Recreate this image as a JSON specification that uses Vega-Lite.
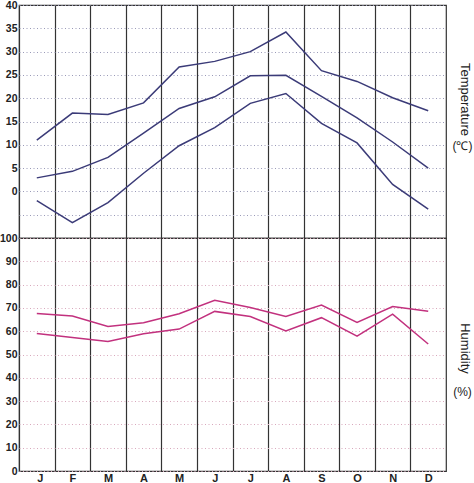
{
  "$schema": "https://vega.github.io/schema/vega-lite/v6.json",
  "padding": {"left": -2, "top": -1, "right": 0, "bottom": 0},
  "spacing": 0,
  "bounds": "flush",
  "config": {
    "font": "Liberation Sans",
    "view": {"stroke": "#333333", "strokeWidth": 1.2},
    "axis": {
      "labelFont": "Liberation Sans",
      "labelFontSize": 10.5,
      "labelFontWeight": "bold",
      "labelColor": "#222222",
      "titleFont": "Liberation Sans",
      "titleFontWeight": "normal",
      "titleColor": "#222222"
    }
  },
  "datasets": {
    "temp": [
      {"month": 1, "series": "max", "temp": 11},
      {"month": 2, "series": "max", "temp": 16.8},
      {"month": 3, "series": "max", "temp": 16.5},
      {"month": 4, "series": "max", "temp": 19},
      {"month": 5, "series": "max", "temp": 26.7},
      {"month": 6, "series": "max", "temp": 27.9},
      {"month": 7, "series": "max", "temp": 30},
      {"month": 8, "series": "max", "temp": 34.2},
      {"month": 9, "series": "max", "temp": 25.9},
      {"month": 10, "series": "max", "temp": 23.6},
      {"month": 11, "series": "max", "temp": 20.1},
      {"month": 12, "series": "max", "temp": 17.3},
      {"month": 1, "series": "mean", "temp": 2.9},
      {"month": 2, "series": "mean", "temp": 4.3},
      {"month": 3, "series": "mean", "temp": 7.3},
      {"month": 4, "series": "mean", "temp": 12.5},
      {"month": 5, "series": "mean", "temp": 17.8},
      {"month": 6, "series": "mean", "temp": 20.3},
      {"month": 7, "series": "mean", "temp": 24.8},
      {"month": 8, "series": "mean", "temp": 24.9},
      {"month": 9, "series": "mean", "temp": 20.4},
      {"month": 10, "series": "mean", "temp": 15.8},
      {"month": 11, "series": "mean", "temp": 10.6},
      {"month": 12, "series": "mean", "temp": 5},
      {"month": 1, "series": "min", "temp": -2},
      {"month": 2, "series": "min", "temp": -6.7},
      {"month": 3, "series": "min", "temp": -2.4},
      {"month": 4, "series": "min", "temp": 3.9},
      {"month": 5, "series": "min", "temp": 9.8},
      {"month": 6, "series": "min", "temp": 13.7},
      {"month": 7, "series": "min", "temp": 18.9},
      {"month": 8, "series": "min", "temp": 21},
      {"month": 9, "series": "min", "temp": 14.6},
      {"month": 10, "series": "min", "temp": 10.4},
      {"month": 11, "series": "min", "temp": 1.5},
      {"month": 12, "series": "min", "temp": -3.8}
    ],
    "hum": [
      {"month": 1, "series": "upper", "hum": 67.6},
      {"month": 2, "series": "upper", "hum": 66.5},
      {"month": 3, "series": "upper", "hum": 62},
      {"month": 4, "series": "upper", "hum": 63.6},
      {"month": 5, "series": "upper", "hum": 67.5},
      {"month": 6, "series": "upper", "hum": 73.3},
      {"month": 7, "series": "upper", "hum": 70.2},
      {"month": 8, "series": "upper", "hum": 66.3},
      {"month": 9, "series": "upper", "hum": 71.2},
      {"month": 10, "series": "upper", "hum": 63.8},
      {"month": 11, "series": "upper", "hum": 70.6},
      {"month": 12, "series": "upper", "hum": 68.6},
      {"month": 1, "series": "lower", "hum": 59},
      {"month": 2, "series": "lower", "hum": 57.3},
      {"month": 3, "series": "lower", "hum": 55.6},
      {"month": 4, "series": "lower", "hum": 58.9},
      {"month": 5, "series": "lower", "hum": 60.9},
      {"month": 6, "series": "lower", "hum": 68.5},
      {"month": 7, "series": "lower", "hum": 66.3},
      {"month": 8, "series": "lower", "hum": 60.1},
      {"month": 9, "series": "lower", "hum": 65.8},
      {"month": 10, "series": "lower", "hum": 57.9},
      {"month": 11, "series": "lower", "hum": 67.3},
      {"month": 12, "series": "lower", "hum": 54.5}
    ]
  },
  "vconcat": [
    {
      "width": 427,
      "height": 233,
      "data": {"name": "temp"},
      "layer": [
        {
          "mark": {"type": "line", "color": "#3b3b78", "strokeWidth": 1.5},
          "encoding": {
            "x": {
              "field": "month", "type": "quantitative",
              "scale": {"domain": [0.5, 12.5], "nice": false, "zero": false},
              "axis": {"values": [0.5, 1.5, 2.5, 3.5, 4.5, 5.5, 6.5, 7.5, 8.5, 9.5, 10.5, 11.5], "labels": false, "ticks": false, "domain": false, "title": null, "grid": true, "gridColor": "#333333", "gridWidth": 1.2, "gridOpacity": 1}
            },
            "y": {
              "field": "temp", "type": "quantitative",
              "scale": {"domain": [-10, 40], "nice": false, "zero": false},
              "axis": {"values": [-5, 0, 5, 10, 15, 20, 25, 30, 35, 40], "labelExpr": "datum.value < 0 ? '' : datum.label", "ticks": false, "domain": false, "labelPadding": 2, "grid": true, "gridColor": "#9a9ab8", "gridDash": [1, 2.5], "gridWidth": 1, "gridOpacity": 1, "title": "(℃)", "titleAngle": 0, "titleX": 443, "titleY": 140, "titleAlign": "center", "titleBaseline": "middle", "titleFontSize": 12}
            },
            "detail": {"field": "series"}
          }
        },
        {
          "mark": {"type": "line", "opacity": 0},
          "encoding": {
            "x": {
              "field": "month", "type": "quantitative",
              "scale": {"domain": [0.5, 12.5], "nice": false, "zero": false},
              "axis": {"values": [0.5, 1.5, 2.5, 3.5, 4.5, 5.5, 6.5, 7.5, 8.5, 9.5, 10.5, 11.5], "labels": false, "ticks": false, "domain": false, "title": null, "grid": true, "gridColor": "#333333", "gridWidth": 1.2, "gridOpacity": 1}
            },
            "y": {
              "field": "temp", "type": "quantitative",
              "scale": {"domain": [-10, 40], "nice": false, "zero": false},
              "axis": {"orient": "right", "labels": false, "ticks": false, "domain": false, "grid": false, "title": "Temperature", "titleAngle": 90, "titleX": 18, "titleY": 94, "titleAlign": "center", "titleBaseline": "middle", "titleFontSize": 13}
            },
            "detail": {"field": "series"}
          }
        }
      ],
      "resolve": {"axis": {"y": "independent"}}
    },
    {
      "width": 427,
      "height": 233,
      "data": {"name": "hum"},
      "layer": [
        {
          "mark": {"type": "line", "color": "#c2317e", "strokeWidth": 1.5},
          "encoding": {
            "x": {
              "field": "month", "type": "quantitative",
              "scale": {"domain": [0.5, 12.5], "nice": false, "zero": false},
              "axis": {"values": [0.5, 1.5, 2.5, 3.5, 4.5, 5.5, 6.5, 7.5, 8.5, 9.5, 10.5, 11.5], "labelExpr": "['J','F','M','A','M','J','J','A','S','O','N','D'][round(datum.value + 0.5) - 1]", "labelOffset": 17.8, "labelPadding": 1, "labelFontSize": 11, "ticks": false, "domain": false, "title": null, "grid": true, "gridColor": "#333333", "gridWidth": 1.2, "gridOpacity": 1}
            },
            "y": {
              "field": "hum", "type": "quantitative",
              "scale": {"domain": [0, 100], "nice": false, "zero": false},
              "axis": {"values": [0, 10, 20, 30, 40, 50, 60, 70, 80, 90, 100], "ticks": false, "domain": false, "labelPadding": 2, "grid": true, "gridColor": "#d8a8bc", "gridDash": [1, 2.5], "gridWidth": 1, "gridOpacity": 1, "title": "(%)", "titleAngle": 0, "titleX": 443, "titleY": 153, "titleAlign": "center", "titleBaseline": "middle", "titleFontSize": 12}
            },
            "detail": {"field": "series"}
          }
        },
        {
          "mark": {"type": "line", "opacity": 0},
          "encoding": {
            "x": {
              "field": "month", "type": "quantitative",
              "scale": {"domain": [0.5, 12.5], "nice": false, "zero": false},
              "axis": {"values": [0.5, 1.5, 2.5, 3.5, 4.5, 5.5, 6.5, 7.5, 8.5, 9.5, 10.5, 11.5], "labelExpr": "['J','F','M','A','M','J','J','A','S','O','N','D'][round(datum.value + 0.5) - 1]", "labelOffset": 17.8, "labelPadding": 1, "labelFontSize": 11, "ticks": false, "domain": false, "title": null, "grid": true, "gridColor": "#333333", "gridWidth": 1.2, "gridOpacity": 1}
            },
            "y": {
              "field": "hum", "type": "quantitative",
              "scale": {"domain": [0, 100], "nice": false, "zero": false},
              "axis": {"orient": "right", "labels": false, "ticks": false, "domain": false, "grid": false, "title": "Humidity", "titleAngle": 90, "titleX": 18, "titleY": 110, "titleAlign": "center", "titleBaseline": "middle", "titleFontSize": 13}
            },
            "detail": {"field": "series"}
          }
        }
      ],
      "resolve": {"axis": {"y": "independent"}}
    }
  ]
}
